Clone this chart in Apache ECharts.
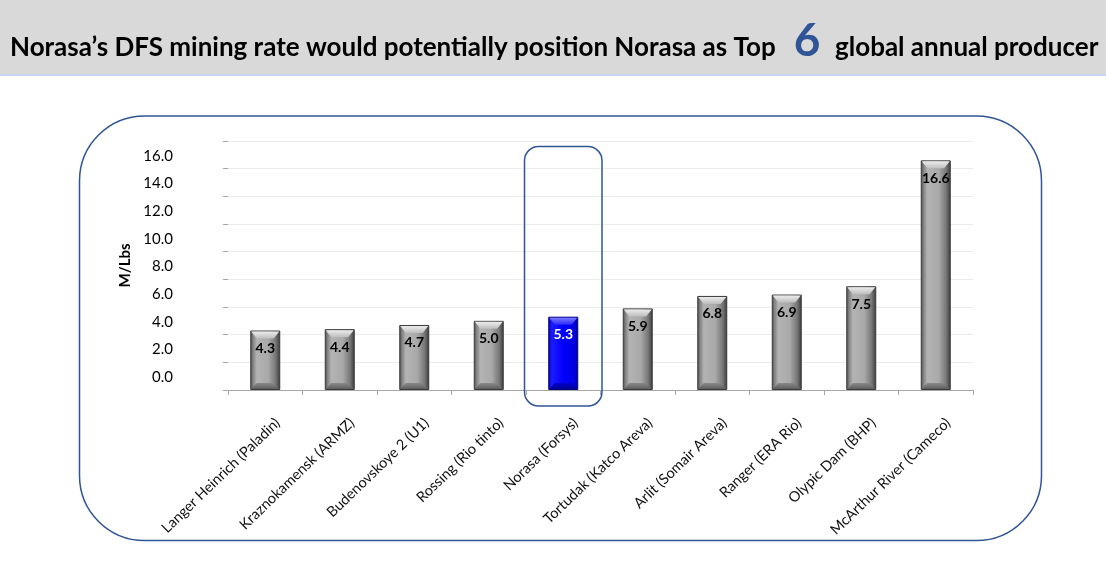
<!DOCTYPE html>
<html><head><meta charset="utf-8">
<script src="https://cdn.jsdelivr.net/npm/echarts@6/dist/echarts.min.js"></script>
<style>html,body{margin:0;padding:0;background:#fff}#c{width:1106px;height:563px}</style>
</head><body><div id="c"></div>
<script>
const categories = ['Langer Heinrich (Paladin)', 'Kraznokamensk (ARMZ)', 'Budenovskoye 2 (U1)', 'Rossing (Rio tinto)', 'Norasa (Forsys)', 'Tortudak (Katco Areva)', 'Arlit (Somair Areva)', 'Ranger (ERA Rio)', 'Olypic Dam (BHP)', 'McArthur River (Cameco)'];
const values = [4.3, 4.4, 4.7, 5.0, 5.3, 5.9, 6.8, 6.9, 7.5, 16.6];
const highlightCategory = 'Norasa (Forsys)';
const yTickLabels = ['0.0', '2.0', '4.0', '6.0', '8.0', '10.0', '12.0', '14.0', '16.0', ''];
const yAxisName = 'M/Lbs';
const titleLead = 'Norasa\u2019s DFS mining rate would potentially position Norasa as Top';
const titleRank = '6';
const titleTail = 'global annual producer';

const FONT = 'Lato, "Open Sans", sans-serif';
const hGrad = stops => ({type:'linear',x:0,y:0,x2:1,y2:0,colorStops:stops.map(s => ({offset:s[0],color:s[1]}))});
const vGrad = (a, b) => ({type:'linear',x:0,y:0,x2:0,y2:1,colorStops:[{offset:0,color:a},{offset:1,color:b}]});
const grayFill = hGrad([[0,'#4e4e4e'],[0.1,'#858585'],[0.22,'#b3b3b3'],[0.6,'#a9a9a9'],[0.85,'#767676'],[1,'#383838']]);
const blueFill = hGrad([[0,'#0000b8'],[0.12,'#1c1cff'],[0.5,'#0000ff'],[0.88,'#0000e0'],[1,'#000088']]);

const cv = document.createElement('canvas').getContext('2d');
cv.font = 'bold 26px ' + FONT;
const leadW = cv.measureText(titleLead).width;
const titleSize = Math.min(30, 26 * 765 / leadW);

const chart = echarts.init(document.getElementById('c'), null, {renderer:'canvas'});
const isHl = c => c === highlightCategory;
const data = categories.map((c, i) => ({
  value: values[i],
  itemStyle: {color: isHl(c) ? blueFill : grayFill, borderColor: isHl(c) ? '#00007a' : '#3a3a3a', borderWidth: 1},
  label: {color: isHl(c) ? '#ffffff' : '#000000'}
}));
const topBevel = categories.map((c, i) => ({
  value: values[i],
  itemStyle: {color: isHl(c) ? vGrad('#7a7aff', '#2a2aff') : vGrad('#ececec', '#bdbdbd')}
}));
const bottomBevel = categories.map((c, i) => ({
  value: values[i],
  itemStyle: {color: isHl(c) ? vGrad('#0000c8', '#00009a') : vGrad('#8a8a8a', '#5e5e5e')}
}));

chart.setOption({
  animation: false,
  backgroundColor: '#ffffff',
  grid: {left: 228, right: 133, top: 141, bottom: 173, containLabel: false},
  xAxis: {
    type: 'category', data: categories,
    axisLine: {show: true, lineStyle: {color: '#a6a6a6', width: 1}},
    axisTick: {show: true, alignWithLabel: false, length: 5, lineStyle: {color: '#a6a6a6'}},
    axisLabel: {rotate: 44, interval: 0, margin: 12,
      formatter: v => '{c|' + v + '}',
      rich: {c: {padding: [44, 4, 0, 0], fontFamily: FONT, fontSize: 14.5, color: '#111'}}}
  },
  yAxis: {
    type: 'value', min: 0, max: 18, interval: 2,
    name: yAxisName, nameLocation: 'middle', nameGap: 80, nameRotate: 90,
    nameTextStyle: {fontFamily: FONT, fontSize: 15, fontWeight: 'bold', color: '#000'},
    axisLine: {show: false},
    axisTick: {show: true, inside: false, length: 5, lineStyle: {color: '#a6a6a6'}},
    splitLine: {show: true, lineStyle: {color: '#ececec', width: 1}},
    axisLabel: {margin: 55,
      formatter: v => '{t|' + (yTickLabels[Math.round(v / 2)] || '') + '}',
      rich: {t: {padding: [0, 0, 26, 0], fontFamily: FONT, fontSize: 15, color: '#000'}}}
  },
  series: [{
    type: 'bar', data: data, barWidth: 30, z: 2,
    label: {show: true, position: 'insideTop', distance: 11,
      fontFamily: FONT, fontSize: 14, fontWeight: 'bold',
      formatter: p => p.value.toFixed(1)}
  }, {
    type: 'pictorialBar', data: topBevel, barWidth: 28, z: 3, silent: true,
    symbol: 'path://M0,0 L30,0 L24,8 L6,8 Z', symbolSize: [28, 7],
    symbolPosition: 'end', symbolOffset: [0, 1], symbolClip: false
  }, {
    type: 'pictorialBar', data: bottomBevel, barWidth: 28, z: 3, silent: true,
    symbol: 'path://M6,0 L24,0 L30,8 L0,8 Z', symbolSize: [28, 6],
    symbolPosition: 'start', symbolOffset: [0, -1], symbolClip: false
  }],
  graphic: [
    {type:'rect', z:-10, shape:{x:0,y:0,width:1106,height:74}, style:{fill:'#d9d9d9'}},
    {type:'rect', z:-9, shape:{x:0,y:74,width:1106,height:2}, style:{fill:'#c5d5ee'}},
    {type:'text', x:10, y:48, style:{text:titleLead, font:'bold ' + titleSize.toFixed(1) + 'px ' + FONT, fill:'#000', verticalAlign:'middle', align:'left'}},
    {type:'text', x:807, y:41, style:{text:titleRank, font:'bold 46px ' + FONT, fill:'#2f5597', verticalAlign:'middle', align:'center'}},
    {type:'text', x:835, y:48, style:{text:titleTail, font:'bold ' + titleSize.toFixed(1) + 'px ' + FONT, fill:'#000', verticalAlign:'middle', align:'left'}},
    {type:'rect', shape:{x:79.5, y:116, width:962, height:424.5, r:65}, style:{fill:null, stroke:'#2f5597', lineWidth:1.5}}
  ]
});

const idx = categories.indexOf(highlightCategory);
const cx = chart.convertToPixel({xAxisIndex:0}, idx);
const x1 = chart.convertToPixel({xAxisIndex:0}, idx + 1 < categories.length ? idx + 1 : idx - 1);
const band = Math.abs(x1 - cx);
const yTop = chart.convertToPixel({yAxisIndex:0}, 17.6);
const y0 = chart.convertToPixel({yAxisIndex:0}, 0);
const w = band * 1.04;
chart.setOption({graphic: [
  {type:'rect', id:'hl', z:20, shape:{x:cx - w/2, y:yTop, width:w, height:(y0 + 16) - yTop, r:14},
   style:{fill:null, stroke:'#2f5597', lineWidth:1.5}}
]});
</script></body></html>
